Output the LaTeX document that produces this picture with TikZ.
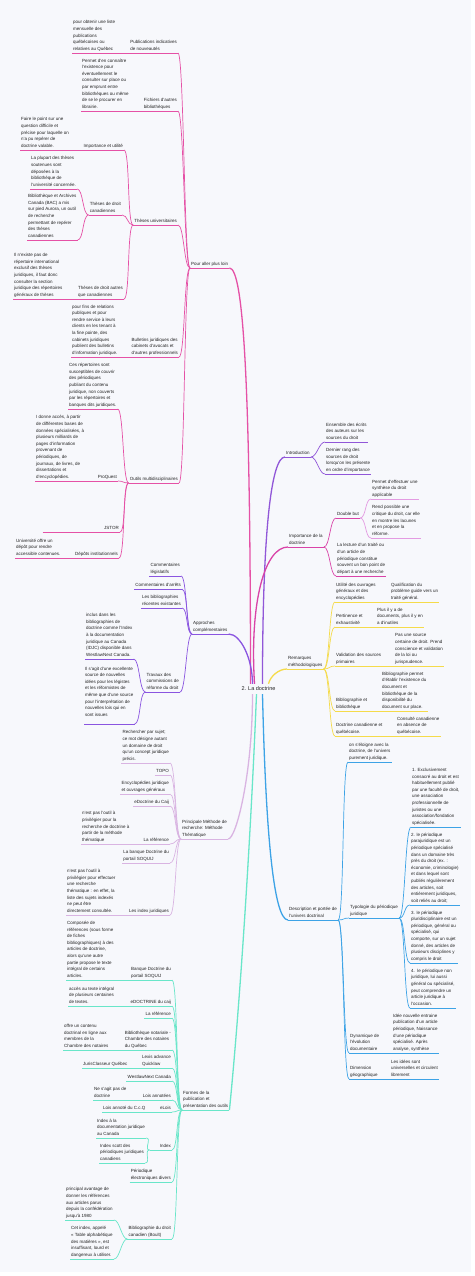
\documentclass[tikz,border=0pt]{standalone}
\usepackage{fontspec}
\setmainfont{Liberation Sans}
\definecolor{bgc}{HTML}{F7F8FC}
\definecolor{txt}{HTML}{222222}
\definecolor{pkc}{HTML}{E551A6}
\definecolor{puc}{HTML}{8A55E0}
\definecolor{lic}{HTML}{D9B4E2}
\definecolor{aqc}{HTML}{69E6C9}
\definecolor{vic}{HTML}{9157D8}
\definecolor{mgc}{HTML}{D943A8}
\definecolor{mg2c}{HTML}{E39BE2}
\definecolor{yec}{HTML}{F5DB4A}
\definecolor{blc}{HTML}{3DA3E6}

\begin{document}
\begin{tikzpicture}[x=1pt, y=-1pt,
    tp/.style={font=\fontsize{4.5}{6.6}\selectfont, text=txt, align=left,
               inner xsep=1pt, inner ysep=0.5pt, execute at end node=\strut},
    tl/.style={tp, anchor=south east},
    tr/.style={tp, anchor=south west},
    pk/.style={draw=pkc, line width=0.7pt},
    pu/.style={draw=puc, line width=0.7pt},
    li/.style={draw=lic, line width=0.7pt},
    aq/.style={draw=aqc, line width=0.7pt},
    vi/.style={draw=vic, line width=0.7pt},
    mg/.style={draw=mgc, line width=0.7pt},
    mg2/.style={draw=mg2c, line width=0.7pt},
    ye/.style={draw=yec, line width=0.7pt},
    bl/.style={draw=blc, line width=0.7pt},
    main/.style={line width=1.3pt},
]
    \useasboundingbox (0,0) rectangle (474,1276);
    \fill[bgc] (0,0) rectangle (471,1272);

    % centre
    \node[font=\fontsize{5.5}{6.6}\selectfont, text=txt, inner sep=3pt] (root) at (258.5,689) {2. La doctrine};

    % Pour aller plus loin
    \node[tr] (pap) at (190,268) {Pour aller plus loin};
    \node[tl] (pub) at (178,53) {Publications indicatives\\de nouveautés};
    \node[tr] (pubn) at (72,53) {pour obtenir une liste\\mensuelle des\\publications\\québécoises ou\\relatives au Québec};
    \node[tl] (fic) at (178,111) {Fichiers d'autres\\bibliothèques};
    \node[tr] (ficn) at (81,111) {Permet d'en connaître\\l'existence pour\\éventuellement le\\consulter sur place ou\\par emprunt entre\\bibliothèques ou même\\de se le procurer en\\librairie.};
    \node[tl] (the) at (178,225) {Thèses universitaires};
    \node[tl] (imu) at (124,150) {Importance et utilité};
    \node[tr] (imun) at (20,150) {Faire le point sur une\\question difficile et\\précise pour laquelle on\\n'a pu repérer de\\doctrine valable.};
    \node[tl] (tdc) at (122,215) {Thèses de droit\\canadiennes};
    \node[tr] (tdc1) at (30,189) {La plupart des thèses\\soutenues sont\\déposées à la\\bibliothèque de\\l'université concernée.};
    \node[tr] (tdc2) at (27,240) {Bibliothèque et Archives\\Canada (BAC) a mis\\sur pied Aurora, un outil\\de recherche\\permettant de repérer\\des thèses\\canadiennes};
    \node[tl] (tda) at (124,299) {Thèses de droit autres\\que canadiennes};
    \node[tr] (tdan) at (13,299) {Il n'existe pas de\\répertoire international\\exclusif des thèses\\juridiques, il faut donc\\consulter la section\\juridique des répertoires\\généraux de thèses};
    \node[tl] (bul) at (179,357) {Bulletins juridiques des\\cabinets d'avocats et\\d'autres professionnels};
    \node[tr] (buln) at (71,357) {pour fins de relations\\publiques et pour\\rendre service à leurs\\clients en les tenant à\\la fine pointe, des\\cabinets juridiques\\publient des bulletins\\d'information juridique.};
    \node[tl] (out) at (179,483) {Outils multidisciplinaires};
    \node[tr] (outr) at (68,409) {Ces répertoires sont\\susceptibles de couvrir\\des périodiques\\publiant du contenu\\juridique, non couverts\\par les répertoires et\\banques dits juridiques.};
    \node[tl] (prq) at (118,481) {ProQuest};
    \node[tr] (prqn) at (35,481) {I donne accès, à partir\\de différentes bases de\\données spécialisées, à\\plusieurs milliards de\\pages d'information\\provenant de\\périodiques, de\\journaux, de livres, de\\dissertations et\\d'encyclopédies.};
    \node[tl, text width=75pt, align=right] (jst) at (120,532) {JSTOR};
    \node[tl] (dep) at (119,558) {Dépôts institutionnels};
    \node[tr] (depn) at (15,558) {Université offre un\\dépôt pour rendre\\accessible contenues.};

    % Approches complementaires
    \node[tr] (apc) at (192,634) {Approches\\complémentaires};
    \node[tl] (cle) at (181,576) {Commentaires\\législatifs};
    \node[tl] (car) at (182,589) {Commentaires d'arrêts};
    \node[tl] (bib) at (182,608) {Les bibliographies\\récentes existantes};
    \node[tl] (tcr) at (180,692) {Travaux des\\commissions de\\réforme du droit};
    \node[tr] (tcr1) at (85,659) {inclus dans les\\bibliographies de\\doctrine comme l'Index\\à la documentation\\juridique au Canada\\(IDJC) disponible dans\\WestlawNext Canada.};
    \node[tr, inner ysep=5.5pt] (tcr2) at (84,724) {Il s'agit d'une excellente\\source de nouvelles\\idées pour les légistes\\et les réformistes de\\même que d'une source\\pour l'interprétation de\\nouvelles lois qui en\\sont issues};

    % Principale methode
    \node[tr] (pmr) at (181,839) {Principale Méthode de\\recherche: Méthode\\Thématique};
    \node[tl] (rps) at (170,763) {Rechercher par sujet;\\ce mot désigne autant\\un domaine de droit\\qu'un concept juridique\\précis.};
    \node[tl] (topo) at (170,775) {TOPO};
    \node[tl] (enc) at (170,794) {Encyclopédies juridique\\et ouvrages généraux};
    \node[tl] (edc) at (170,806) {eDoctrine du Caij};
    \node[tl] (lrf) at (170,844) {La référence};
    \node[tr] (lrfn) at (81,844) {n'est pas l'outil à\\privilégier pour la\\recherche de doctrine à\\partir de la méthode\\thématique};
    \node[tl] (bds) at (170,863) {La banque Doctrine du\\portail SOQUIJ};
    \node[tl] (idx) at (170,915) {Les index juridiques};
    \node[tr] (idxn) at (66,915) {n'est pas l'outil à\\privilégier pour effectuer\\une recherche\\thématique : en effet, la\\liste des sujets indexés\\ne peut être\\directement consultée.};

    % Formes de la publication
    \node[tr] (frm) at (182,1110) {Formes de la\\publication et\\présentation des outils};
    \node[tl] (bdq) at (172,980) {Banque Doctrine du\\portail SOQUIJ};
    \node[tr] (bdqn) at (66,980) {Composée de\\références (sous forme\\de fiches\\bibliographiques) à des\\articles de doctrine,\\alors qu'une autre\\partie propose le texte\\intégral de certains\\articles.};
    \node[tl] (edo) at (172,1006) {eDOCTRINE du caij};
    \node[tr] (edon) at (68,1006) {accès au texte intégral\\de plusieurs centaines\\de textes.};
    \node[tl] (lrf2) at (172,1018) {La référence};
    \node[tl] (bno) at (172,1050) {Bibliothèque notariale -\\Chambre des notaires\\du Québec};
    \node[tr] (bnon) at (63,1050) {offre un contenu\\doctrinal en ligne aux\\membres de la\\Chambre des notaires};
    \node[tl] (lex) at (172,1068) {Lexis advance\\Quicklaw};
    \node[tr] (lexn) at (82,1068) {JurisClasseur Québec};
    \node[tl] (wln) at (172,1081) {WestlawNext Canada};
    \node[tl] (lan) at (172,1100) {Lois annotées};
    \node[tr] (lann) at (93,1100) {Ne s'agit pas de\\doctrine};
    \node[tl] (elo) at (172,1112) {eLois};
    \node[tr] (elon) at (102,1112) {Lois annoté du C.c.Q};
    \node[tl, text width=20pt, align=right] (ind) at (172,1150) {Index};
    \node[tr] (ind1) at (96,1138) {Index à la\\documentation juridique\\au Canada};
    \node[tr] (ind2) at (99,1163) {Index scott des\\périodiques juridiques\\canadiens};
    \node[tl] (ped) at (172,1182) {Périodique\\électroniques divers};
    \node[tl] (bdc) at (172,1239) {Bibliographie du droit\\canadien (Boult)};
    \node[tr] (bdc1) at (65,1220) {principal avantage de\\donner les références\\aux articles parus\\depuis la confédération\\jusqu'à 1980};
    \node[tr] (bdc2) at (70,1259) {Cet index, appelé\\« Table alphabétique\\des matières », est\\insuffisant, lourd et\\dangereux à utiliser.};

    % Introduction
    \node[tr] (itr) at (285,457) {Introduction};
    \node[tr] (itr1) at (325,442) {Ensemble des écrits\\des auteurs sur les\\sources du droit};
    \node[tr] (itr2) at (325,474) {Dernier rang des\\sources de droit\\lorsqu'on les présente\\en ordre d'importance};

    % Importance de la doctrine
    \node[tr] (imd) at (288,547) {Importance de la\\doctrine};
    \node[tr] (dbt) at (336,518) {Double but};
    \node[tr] (dbt1) at (371,499) {Permet d'effectuer une\\synthèse du droit\\applicable};
    \node[tr] (dbt2) at (371,538) {Rend possible une\\critique du droit, car elle\\en montre les lacunes\\et en propose la\\réforme.};
    \node[tr] (lec) at (336,576) {La lecture d'un traité ou\\d'un article de\\périodique constitue\\souvent un bon point de\\départ à une recherche};

    % Remarques methodologiques
    \node[tr] (rmq) at (287,669) {Remarques\\méthodologiques};
    \node[tr] (uti) at (335,602) {Utilité des ouvrages\\généraux et des\\encyclopédies};
    \node[tr] (utin) at (390,602) {Qualification du\\problème guide vers un\\traité général.};
    \node[tr] (per) at (335,627) {Pertinence et\\exhaustivité};
    \node[tr] (pern) at (376,627) {Plus il y a de\\documents, plus il y en\\a d'inutiles};
    \node[tr] (val) at (335,666) {Validation des sources\\primaires};
    \node[tr] (valn) at (394,666) {Pas une source\\certaine de droit. Prend\\conscience et validation\\de la loi ou\\jurisprudence.};
    \node[tr] (bbl) at (335,711) {Bibliographie et\\bibliothèque};
    \node[tr] (bbln) at (381,711) {Bibliographie permet\\d'établir l'existence du\\document et\\bibliothèque de la\\disponibilité du\\document sur place.};
    \node[tr] (dcq) at (335,736) {Doctrine canadienne et\\québécoise.};
    \node[tr] (dcqn) at (396,736) {Consulté canadienne\\en absence de\\québécoise.};

    % Description et portee
    \node[tr] (dsc) at (288,920) {Description et portée de\\l'univers doctrinal};
    \node[tr] (sel) at (348,762) {on s'éloigne avec la\\doctrine, de l'univers\\purement juridique.};
    \node[tr] (typ) at (349,918) {Typologie du périodique\\juridique};
    \node[tr] (ty1) at (411,827) {1. Exclusivement\\consacré au droit et est\\habituellement publié\\par une faculté de droit,\\une association\\professionnelle de\\juristes ou une\\association/fondation\\spécialisée.};
    \node[tr] (ty2) at (410,905) {2. le périodique\\parajuridique est un\\périodique spécialisé\\dans un domaine très\\près du droit (ex. :\\économie, criminologie)\\et dans lequel sont\\publiés régulièrement\\des articles, soit\\entièrement juridiques,\\soit reliés au droit;};
    \node[tr] (ty3) at (410,963) {3. le périodique\\pluridisciplinaire est un\\périodique, général ou\\spécialisé, qui\\comporte, sur un sujet\\donné, des articles de\\plusieurs disciplines y\\compris le droit};
    \node[tr] (ty4) at (410,1008) {4.\ \ le périodique non\\juridique, lui aussi\\général ou spécialisé,\\peut comprendre un\\article juridique à\\l'occasion.};
    \node[tr] (dyn) at (349,1053) {Dynamique de\\l'évolution\\documentaire};
    \node[tr] (dynn) at (392,1053) {Idée nouvelle entraine\\publication d'un article\\périodique, Naissance\\d'une périodique\\spécialisé. Après\\analyse, synthèse};
    \node[tr] (dim) at (349,1079) {Dimension\\géographique};
    \node[tr] (dimn) at (390,1079) {Les idées sont\\universelles et circulent\\librement};

    % underlines
    \foreach \n in {pap,pub,pubn,fic,ficn,the,imu,imun,tdc,tdc1,tdc2,tda,tdan,bul,buln,out,outr,prq,prqn,jst,dep,depn}
        \draw[pk] (\n.south west) -- (\n.south east);
    \foreach \n in {apc,cle,car,bib,tcr,tcr1,tcr2}
        \draw[pu] (\n.south west) -- (\n.south east);
    \foreach \n in {pmr,rps,topo,enc,edc,lrf,lrfn,bds,idx,idxn}
        \draw[li] (\n.south west) -- (\n.south east);
    \foreach \n in {frm,bdq,bdqn,edo,edon,lrf2,bno,bnon,lex,lexn,wln,lan,lann,elo,elon,ind,ind1,ind2,ped,bdc,bdc1,bdc2}
        \draw[aq] (\n.south west) -- (\n.south east);
    \foreach \n in {itr,itr1,itr2}
        \draw[vi] (\n.south west) -- (\n.south east);
    \foreach \n in {imd,dbt,lec}
        \draw[mg] (\n.south west) -- (\n.south east);
    \foreach \n in {dbt1,dbt2}
        \draw[mg2] (\n.south west) -- (\n.south east);
    \foreach \n in {rmq,uti,utin,per,pern,val,valn,bbl,bbln,dcq,dcqn}
        \draw[ye] (\n.south west) -- (\n.south east);
    \foreach \n in {dsc,sel,typ,ty1,ty2,ty3,ty4,dyn,dynn,dim,dimn}
        \draw[bl] (\n.south west) -- (\n.south east);

    % main branches
    \draw[pk, main] (pap.south east) .. controls +(14,0) and +(0,-300) .. ([xshift=-8pt]root.north);
    \draw[pu, main] (apc.south east) .. controls +(12,0) and +(0,-25) .. ([xshift=-6pt]root.north);
    \draw[li, main] ([xshift=-6pt]root.south) .. controls +(0,80) and +(8,0) .. (pmr.south east);
    \draw[aq, main] ([xshift=-2pt]root.south) .. controls +(-6,150) and +(10,-100) .. (frm.south east);
    \draw[vi, main] ([xshift=4pt]root.north) .. controls +(0,-150) and +(-14,0) .. (itr.south west);
    \draw[mg, main] ([xshift=-4pt]root.north) .. controls +(-5,-83) and +(-23,0) .. (imd.south west);
    \draw[ye, main] ([xshift=10pt]root.north) .. controls +(2,-8) and +(-8,0) .. (rmq.south west);
    \draw[bl, main] ([xshift=4pt]root.south) .. controls +(3,130) and +(-15,0) .. (dsc.south west);

    % left connectors
    \foreach \p/\c in {pap/pub,pap/fic,pap/the,pap/bul,pap/out,pub/pubn,fic/ficn,the/imu,the/tdc,the/tda,
                       imu/imun,tdc/tdc1,tdc/tdc2,tda/tdan,bul/buln,out/outr,out/prq,out/jst,out/dep,prq/prqn,dep/depn}
        \draw[pk] (\p.south west) .. controls +(-6,0) and +(6,0) .. (\c.south east);
    \foreach \p/\c in {apc/cle,apc/car,apc/bib,apc/tcr,tcr/tcr1,tcr/tcr2}
        \draw[pu] (\p.south west) .. controls +(-6,0) and +(6,0) .. (\c.south east);
    \foreach \p/\c in {pmr/rps,pmr/topo,pmr/enc,pmr/edc,pmr/lrf,pmr/bds,pmr/idx,lrf/lrfn,idx/idxn}
        \draw[li] (\p.south west) .. controls +(-6,0) and +(6,0) .. (\c.south east);
    \foreach \p/\c in {frm/bdq,frm/edo,frm/lrf2,frm/bno,frm/lex,frm/wln,frm/lan,frm/elo,frm/ind,frm/ped,frm/bdc,
                       bdq/bdqn,edo/edon,bno/bnon,lex/lexn,lan/lann,elo/elon,ind/ind1,ind/ind2,bdc/bdc1,bdc/bdc2}
        \draw[aq] (\p.south west) .. controls +(-6,0) and +(6,0) .. (\c.south east);

    % right connectors
    \foreach \p/\c in {itr/itr1,itr/itr2}
        \draw[vi] (\p.south east) .. controls +(6,0) and +(-6,0) .. (\c.south west);
    \foreach \p/\c in {imd/dbt,imd/lec}
        \draw[mg] (\p.south east) .. controls +(6,0) and +(-6,0) .. (\c.south west);
    \foreach \p/\c in {dbt/dbt1,dbt/dbt2}
        \draw[mg2] (\p.south east) .. controls +(6,0) and +(-6,0) .. (\c.south west);
    \foreach \p/\c in {rmq/uti,rmq/per,rmq/val,rmq/bbl,rmq/dcq,uti/utin,per/pern,val/valn,bbl/bbln,dcq/dcqn}
        \draw[ye] (\p.south east) .. controls +(6,0) and +(-6,0) .. (\c.south west);
    \foreach \p/\c in {dsc/sel,dsc/typ,dsc/dyn,dsc/dim,typ/ty1,typ/ty2,typ/ty3,typ/ty4,dyn/dynn,dim/dimn}
        \draw[bl] (\p.south east) .. controls +(6,0) and +(-6,0) .. (\c.south west);
\end{tikzpicture}
\end{document}
